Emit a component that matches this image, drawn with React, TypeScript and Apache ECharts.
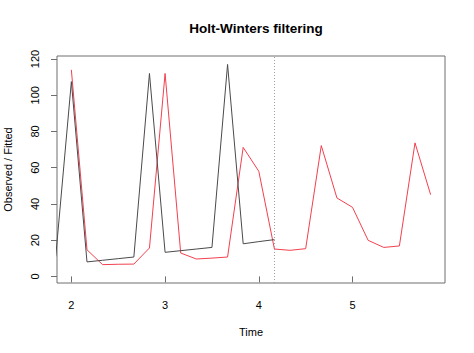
import React, { useEffect, useRef } from "react";
import * as echarts from "echarts";

// Time series (frequency 6 per unit of time)
const frequency = 6;
const observedStart = 1 + 5 / 6; // 1.8333
const observed = [11, 107.5, 8, 8.9, 9.8, 10.7, 112, 13.3, 14.2, 15.1, 16, 117, 18, 19.2, 20.3];
const fittedStart = 2;
const fitted = [
  114, 14.7, 6.5, 6.7, 6.8, 15.7, 112, 12.9, 9.6, 10.1, 10.7, 71.2, 58, 15.1,
  14.4, 15.3, 72.2, 43.3, 38.1, 19.9, 16, 16.8, 73.7, 45.1,
];
const separatorTime = 4 + 1 / 6;
const xTicks = [2, 3, 4, 5];
const yTicks = [0, 20, 40, 60, 80, 100, 120];
const xRange = [1.8467, 5.9867];
const yRange = [-3.64, 121.64];

const FONT = "'Liberation Sans', Arial, Helvetica, sans-serif";
const AXIS_GRAY = "#6e6e6e";

function toPairs(start: number, values: number[]) {
  return values.map((v, i) => [start + i / frequency, v]);
}

export default function App() {
  const ref = useRef<HTMLDivElement>(null);
  useEffect(() => {
    if (!ref.current) return;
    const chart = echarts.init(ref.current, undefined, { renderer: "svg" });
    chart.setOption({
      animation: false,
      backgroundColor: "#ffffff",
      title: {
        text: "Holt-Winters filtering",
        left: 251,
        top: 16,
        textAlign: "center",
        textStyle: { fontFamily: FONT, fontSize: 13.5, fontWeight: "bold", color: "#000" },
      },
      grid: {
        left: 57,
        right: 29,
        top: 56,
        bottom: 70,
        containLabel: false,
        outerBoundsMode: "none",
        show: true,
        borderColor: AXIS_GRAY,
        borderWidth: 1,
        backgroundColor: "transparent",
      },
      xAxis: {
        type: "value",
        min: xRange[0],
        max: xRange[1],
        name: "Time",
        nameLocation: "middle",
        nameGap: 43,
        nameTextStyle: { fontFamily: FONT, fontSize: 11, color: "#000" },
        axisLine: { show: false },
        splitLine: { show: false },
        axisTick: {
          show: true,
          inside: false,
          length: 6,
          customValues: xTicks,
          lineStyle: { color: AXIS_GRAY, width: 1 },
        },
        axisLabel: {
          customValues: xTicks,
          margin: 16,
          fontFamily: FONT,
          fontSize: 11,
          color: "#000",
          formatter: (v: number) => String(v),
        },
      },
      yAxis: {
        type: "value",
        min: yRange[0],
        max: yRange[1],
        name: "Observed / Fitted",
        nameLocation: "middle",
        nameGap: 44,
        nameRotate: 90,
        nameTextStyle: { fontFamily: FONT, fontSize: 11, color: "#000" },
        axisLine: { show: false },
        splitLine: { show: false },
        axisTick: {
          show: true,
          inside: false,
          length: 6,
          customValues: yTicks,
          lineStyle: { color: AXIS_GRAY, width: 1 },
        },
        axisLabel: {
          customValues: yTicks,
          rotate: 90,
          margin: 17,
          fontFamily: FONT,
          fontSize: 11,
          color: "#000",
          formatter: (v: number) => String(v),
        },
      },
      series: [
        {
          name: "Observed",
          type: "line",
          data: toPairs(observedStart, observed),
          showSymbol: false,
          symbol: "none",
          clip: true,
          lineStyle: { color: "#4a4a4a", width: 1 },
          itemStyle: { color: "#4a4a4a" },
          markLine: {
            silent: true,
            symbol: ["none", "none"],
            label: { show: false },
            lineStyle: { color: "#a0a0a0", type: [1, 2], width: 1 },
            data: [{ xAxis: separatorTime }],
          },
          z: 3,
        },
        {
          name: "Fitted",
          type: "line",
          data: toPairs(fittedStart, fitted),
          showSymbol: false,
          symbol: "none",
          clip: true,
          lineStyle: { color: "#f2404f", width: 1 },
          itemStyle: { color: "#f2404f" },
          z: 2,
        },
      ],
    });
    return () => chart.dispose();
  }, []);
  return (
    <div
      ref={ref}
      style={{ position: "fixed", left: 0, top: 0, width: 474, height: 353, background: "#fff" }}
    />
  );
}
